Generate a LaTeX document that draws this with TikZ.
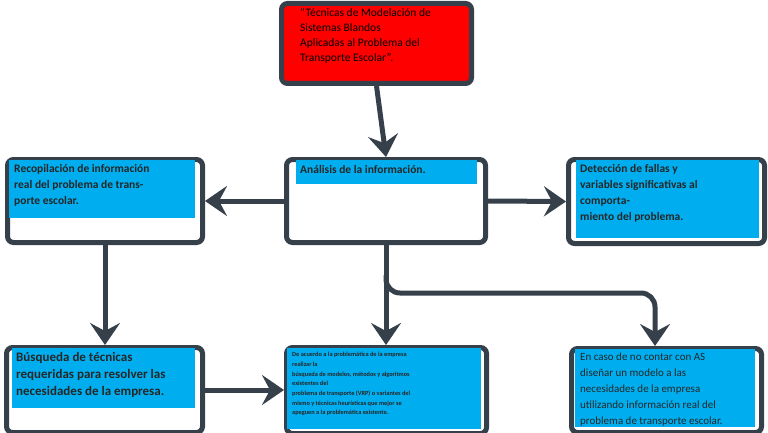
\documentclass[tikz,border=0pt]{standalone}
\usepackage{fontspec}
\setmainfont{Carlito}
\usetikzlibrary{arrows.meta}
\definecolor{edge}{HTML}{36404B}
\definecolor{cy}{HTML}{00AEEF}
\definecolor{rd}{HTML}{FF0000}
\tikzset{
 x=1pt,y=-1pt,
 box/.style={draw=edge,line width=5pt,rounded corners=6pt,inner sep=0pt,anchor=north west},
 txt/.style={anchor=north west,inner sep=0pt,align=left,text=black!85,font=\fontsize{11.5}{16}\selectfont\bfseries},
 conn/.style={draw=edge,line width=5pt,-{Stealth[length=22pt,width=30pt,inset=8pt]}},
}
\begin{document}
\begin{tikzpicture}
\useasboundingbox (0,0) rectangle (768,433);
% boxes
\node[box,fill=rd,minimum width=190pt,minimum height=80pt] (top) at (279,1) {};
\node[box,fill=white,minimum width=199pt,minimum height=83pt] (ana) at (284,157) {};
\node[box,fill=white,minimum width=195pt,minimum height=83pt] (rec) at (5,157) {};
\node[box,fill=white,minimum width=196pt,minimum height=84pt] (det) at (566,157) {};
\node[box,fill=white,minimum width=196pt,minimum height=85pt] (bus) at (4,345) {};
\node[box,fill=white,minimum width=200pt,minimum height=86pt] (acu) at (284,345) {};
\node[box,fill=white,minimum width=190pt,minimum height=84pt] (caso) at (569,346) {};
% blue fills
\fill[cy] (296,160) rectangle (477,184);
\fill[cy] (9,160) rectangle (195,218);
\fill[cy] (576,160) rectangle (759,238);
\fill[cy] (12,348) rectangle (195,408);
\fill[cy] (287,348) rectangle (481,429);
\fill[cy] (575,349) rectangle (755,427);
% texts
\node[txt,font=\fontsize{11.5}{15}\selectfont,text=black] (ttop) at (300,8) {``Técnicas de Modelación de\\Sistemas Blandos\\Aplicadas al Problema del\\Transporte Escolar''.};
\node[txt] (tana) at (300,165) {Análisis de la información.};
\node[txt] (trec) at (14,164) {Recopilación de información\\real del problema de trans-\\porte escolar.};
\node[txt] (tdet) at (580,164) {Detección de fallas y\\variables significativas al\\comporta-\\miento del problema.};
\node[txt,font=\fontsize{13}{17}\selectfont\bfseries] (tbus) at (16,352) {Búsqueda de técnicas\\requeridas para resolver las\\necesidades de la empresa.};
\node[txt,font=\fontsize{6.3}{9.7}\selectfont\bfseries] (tacu) at (292,352) {De acuerdo a la problemática de la empresa\\realizar la\\búsqueda de modelos, métodos y algoritmos\\existentes del\\problema de transporte (VRP) o variantes del\\mismo y técnicas heurísticas que mejor se\\apeguen a la problemática existente.};
\node[txt,font=\fontsize{11}{16}\selectfont] (tcaso) at (580,353) {En caso de no contar con AS\\diseñar un modelo a las\\necesidades de la empresa\\utilizando información real del\\problema de transporte escolar.};
% connectors
\draw[conn] (top.south) -- (ana.north);
\draw[conn] (ana.west) -- (rec.east);
\draw[conn] (ana.east) -- (det.east -| det.west);
\draw[conn] (rec.south) -- (bus.north -| rec.south);
\draw[conn] (bus.east) -- (bus.east -| acu.west);
\draw[conn] (ana.south) -- (ana.south |- acu.north);
\coordinate (br) at (ana.south |- 0,275);
\draw[conn,rounded corners=14pt] (br) -- (br |- 0,293) -- (655,293) -- (caso.north -| 655,0);
\end{tikzpicture}
\end{document}
